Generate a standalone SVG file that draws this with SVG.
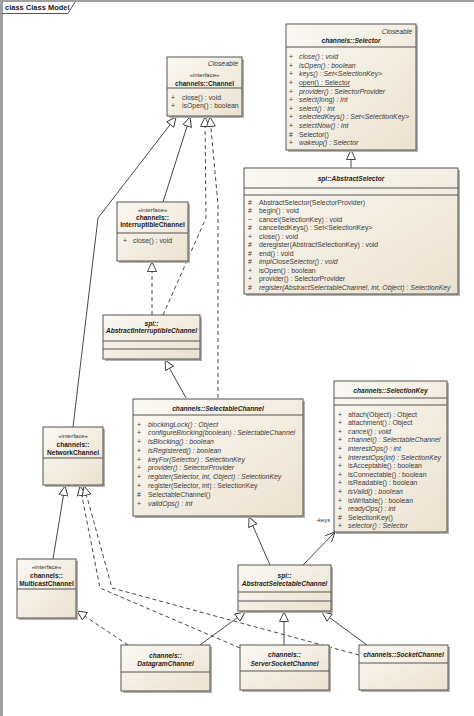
<svg xmlns="http://www.w3.org/2000/svg" width="474" height="716" viewBox="0 0 474 716">
<defs>
<linearGradient id="g" x1="0" y1="0" x2="1" y2="1">
<stop offset="0" stop-color="#fbf9f4"/>
<stop offset="1" stop-color="#ebe1cf"/>
</linearGradient>
<marker id="gen" markerUnits="userSpaceOnUse" markerWidth="11" markerHeight="10" refX="10" refY="5" orient="auto" viewBox="0 0 11 10">
<path d="M0.5,0.5 L10,5 L0.5,9.5 z" fill="#fff" stroke="#333" stroke-width="0.9"/>
</marker>
<marker id="open" markerUnits="userSpaceOnUse" markerWidth="11" markerHeight="10" refX="10" refY="5" orient="auto" viewBox="0 0 11 10">
<path d="M0.5,0.5 L10,5 L0.5,9.5" fill="none" stroke="#333" stroke-width="0.9"/>
</marker>
</defs>
<style>
.sh{fill:#b5b0a8;stroke:none}
.box{fill:url(#g);stroke:#555;stroke-width:1}
.sep{stroke:#555;stroke-width:1}
text{font-family:"Liberation Sans",Arial,sans-serif}
.hd{font-size:6.6px;font-weight:bold;fill:#1c1c1c;text-anchor:middle}
.hi{font-style:italic}
.st{font-size:6px;fill:#333;text-anchor:middle}
.cl{font-size:6.8px;font-style:italic;fill:#333;text-anchor:end}
.m{font-size:6.9px;fill:#3a3a3a}
.i{font-style:italic}
.u{text-decoration:underline}
.v{font-size:6.9px;fill:#3a3a3a}
.c{fill:none;stroke:#333;stroke-width:0.9}
.d{stroke-dasharray:4,3}
.lbl{font-size:6px;fill:#333}
.ft{font-size:7.5px;font-weight:bold;fill:#222}
</style>
<rect x="0" y="0" width="474" height="716" fill="#fff"/>
<g id="frame">
<rect x="0" y="0" width="3" height="716" fill="#a0a0a0"/>
<rect x="0" y="0" width="474" height="2" fill="#a0a0a0"/>
<path d="M2,13.5 L68,13.5 L75,2" fill="none" stroke="#555" stroke-width="1"/>
<text class="ft" x="5" y="10">class Class Model</text>
</g>

<g id="connectors">
<polyline class="c" points="73,427 98,218 176,117" marker-end="url(#gen)"/>
<polyline class="c" points="163,202 190,117" marker-end="url(#gen)"/>
<polyline class="c d" points="163,315 206,218 205,117" marker-end="url(#gen)"/>
<polyline class="c d" points="218,398 218,205 210,117" marker-end="url(#gen)"/>
<polyline class="c d" points="152,315 152,262" marker-end="url(#gen)"/>
<polyline class="c" points="186,398 165,360" marker-end="url(#gen)"/>
<polyline class="c" points="351,168 351,150" marker-end="url(#gen)"/>
<polyline class="c" points="270,565 249,517" marker-end="url(#gen)"/>
<polyline class="c" points="303,565 335,532" marker-end="url(#open)"/>
<text class="lbl" x="316" y="522">-keys</text>
<polyline class="c" points="53,559 65,486" marker-end="url(#gen)"/>
<polyline class="c d" points="240,648 100,588 80,486" marker-end="url(#gen)"/>
<polyline class="c d" points="359,655 112,588 84,486" marker-end="url(#gen)"/>
<polyline class="c d" points="128,645 77,611" marker-end="url(#gen)"/>
<polyline class="c" points="200,645 245,612" marker-end="url(#gen)"/>
<polyline class="c" points="284,645 284,612" marker-end="url(#gen)"/>
<polyline class="c" points="367,645 322,612" marker-end="url(#gen)"/>
</g>

<g id="Channel">
<rect class="sh" x="169" y="59" width="75" height="59"/>
<rect class="box" x="167" y="57" width="75" height="59"/>
<line class="sep" x1="167" y1="88" x2="242" y2="88"/>
<text class="cl" x="238" y="65.5">Closeable</text>
<text class="st" x="204.5" y="77">«interface»</text>
<text class="hd" x="204.5" y="85.5">channels::Channel</text>
<text class="v" x="171" y="99.5">+</text><text class="m" x="182" y="99.5">close() : void</text>
<text class="v" x="171" y="108">+</text><text class="m" x="182" y="108">isOpen() : boolean</text>
</g>

<g id="Selector">
<rect class="sh" x="288" y="26" width="130" height="126"/>
<rect class="box" x="286" y="24" width="130" height="126"/>
<line class="sep" x1="286" y1="47" x2="416" y2="47"/>
<text class="cl" x="412" y="33.5">Closeable</text>
<text class="hd hi" x="351" y="42.5">channels::Selector</text>
<text class="v" x="289" y="59.2">+</text><text class="m i" x="299" y="59.2">close() : void</text>
<text class="v" x="289" y="67.8">+</text><text class="m i" x="299" y="67.8">isOpen() : boolean</text>
<text class="v" x="289" y="76.4">+</text><text class="m i" x="299" y="76.4">keys() : Set&lt;SelectionKey&gt;</text>
<text class="v" x="289" y="85">+</text><text class="m u" x="299" y="85">open() : Selector</text>
<text class="v" x="289" y="93.6">+</text><text class="m i" x="299" y="93.6">provider() : SelectorProvider</text>
<text class="v" x="289" y="102.2">+</text><text class="m i" x="299" y="102.2">select(long) : int</text>
<text class="v" x="289" y="110.8">+</text><text class="m i" x="299" y="110.8">select() : int</text>
<text class="v" x="289" y="119.4">+</text><text class="m i" x="299" y="119.4">selectedKeys() : Set&lt;SelectionKey&gt;</text>
<text class="v" x="289" y="128">+</text><text class="m i" x="299" y="128">selectNow() : int</text>
<text class="v" x="289" y="136.6">#</text><text class="m" x="299" y="136.6">Selector()</text>
<text class="v" x="289" y="145.2">+</text><text class="m i" x="299" y="145.2">wakeup() : Selector</text>
</g>

<g id="AbstractSelector">
<rect class="sh" x="246" y="170" width="214" height="126"/>
<rect class="box" x="244" y="168" width="214" height="126"/>
<line class="sep" x1="244" y1="188" x2="458" y2="188"/>
<line class="sep" x1="244" y1="195" x2="458" y2="195"/>
<text class="hd hi" x="351" y="180.5">spi::AbstractSelector</text>
<text class="v" x="248" y="204.5">#</text><text class="m" x="259" y="204.5">AbstractSelector(SelectorProvider)</text>
<text class="v" x="248" y="213">#</text><text class="m" x="259" y="213">begin() : void</text>
<text class="v" x="248" y="221.5">~</text><text class="m" x="259" y="221.5">cancel(SelectionKey) : void</text>
<text class="v" x="248" y="230">#</text><text class="m" x="259" y="230">cancelledKeys() : Set&lt;SelectionKey&gt;</text>
<text class="v" x="248" y="238.5">+</text><text class="m" x="259" y="238.5">close() : void</text>
<text class="v" x="248" y="247">#</text><text class="m" x="259" y="247">deregister(AbstractSelectionKey) : void</text>
<text class="v" x="248" y="255.5">#</text><text class="m" x="259" y="255.5">end() : void</text>
<text class="v" x="248" y="264">#</text><text class="m i" x="259" y="264">implCloseSelector() : void</text>
<text class="v" x="248" y="272.5">+</text><text class="m" x="259" y="272.5">isOpen() : boolean</text>
<text class="v" x="248" y="281">+</text><text class="m" x="259" y="281">provider() : SelectorProvider</text>
<text class="v" x="248" y="289.5">#</text><text class="m i" x="259" y="289.5">register(AbstractSelectableChannel, int, Object) : SelectionKey</text>
</g>

<g id="InterruptibleChannel">
<rect class="sh" x="119" y="204" width="71" height="59"/>
<rect class="box" x="117" y="202" width="71" height="59"/>
<line class="sep" x1="117" y1="233" x2="188" y2="233"/>
<text class="st" x="152.5" y="212">«interface»</text>
<text class="hd" x="152.5" y="219.5">channels::</text>
<text class="hd" x="152.5" y="227">InterruptibleChannel</text>
<text class="v" x="123" y="242.5">+</text><text class="m" x="133" y="242.5">close() : void</text>
</g>

<g id="AbstractInterruptibleChannel">
<rect class="sh" x="105" y="317" width="97" height="44"/>
<rect class="box" x="103" y="315" width="97" height="44"/>
<line class="sep" x1="103" y1="341" x2="200" y2="341"/>
<line class="sep" x1="103" y1="349" x2="200" y2="349"/>
<text class="hd hi" x="151.5" y="325.5">spi::</text>
<text class="hd hi" x="151.5" y="333">AbstractInterruptibleChannel</text>
</g>

<g id="SelectableChannel">
<rect class="sh" x="135" y="401" width="170" height="117"/>
<rect class="box" x="133" y="399" width="170" height="117"/>
<line class="sep" x1="133" y1="415" x2="303" y2="415"/>
<text class="hd hi" x="218" y="410.5">channels::SelectableChannel</text>
<text class="v" x="137" y="426.5">+</text><text class="m i" x="148" y="426.5">blockingLock() : Object</text>
<text class="v" x="137" y="435.3">+</text><text class="m i" x="148" y="435.3">configureBlocking(boolean) : SelectableChannel</text>
<text class="v" x="137" y="444.1">+</text><text class="m i" x="148" y="444.1">isBlocking() : boolean</text>
<text class="v" x="137" y="452.8">+</text><text class="m i" x="148" y="452.8">isRegistered() : boolean</text>
<text class="v" x="137" y="461.6">+</text><text class="m i" x="148" y="461.6">keyFor(Selector) : SelectionKey</text>
<text class="v" x="137" y="470.4">+</text><text class="m i" x="148" y="470.4">provider() : SelectorProvider</text>
<text class="v" x="137" y="479.2">+</text><text class="m i" x="148" y="479.2">register(Selector, int, Object) : SelectionKey</text>
<text class="v" x="137" y="487.9">+</text><text class="m" x="148" y="487.9">register(Selector, int) : SelectionKey</text>
<text class="v" x="137" y="496.7">#</text><text class="m" x="148" y="496.7">SelectableChannel()</text>
<text class="v" x="137" y="505.5">+</text><text class="m i" x="148" y="505.5">validOps() : int</text>
</g>

<g id="SelectionKey">
<rect class="sh" x="336" y="383" width="113" height="151"/>
<rect class="box" x="334" y="381" width="113" height="151"/>
<line class="sep" x1="334" y1="398" x2="447" y2="398"/>
<line class="sep" x1="334" y1="405" x2="447" y2="405"/>
<text class="hd hi" x="390.5" y="392.5">channels::SelectionKey</text>
<text class="v" x="338" y="416.5">+</text><text class="m" x="348" y="416.5">attach(Object) : Object</text>
<text class="v" x="338" y="425.1">+</text><text class="m" x="348" y="425.1">attachment() : Object</text>
<text class="v" x="338" y="433.7">+</text><text class="m i" x="348" y="433.7">cancel() : void</text>
<text class="v" x="338" y="442.3">+</text><text class="m i" x="348" y="442.3">channel() : SelectableChannel</text>
<text class="v" x="338" y="450.9">+</text><text class="m i" x="348" y="450.9">interestOps() : int</text>
<text class="v" x="338" y="459.5">+</text><text class="m i" x="348" y="459.5">interestOps(int) : SelectionKey</text>
<text class="v" x="338" y="468.1">+</text><text class="m" x="348" y="468.1">isAcceptable() : boolean</text>
<text class="v" x="338" y="476.7">+</text><text class="m" x="348" y="476.7">isConnectable() : boolean</text>
<text class="v" x="338" y="485.3">+</text><text class="m" x="348" y="485.3">isReadable() : boolean</text>
<text class="v" x="338" y="493.9">+</text><text class="m i" x="348" y="493.9">isValid() : boolean</text>
<text class="v" x="338" y="502.5">+</text><text class="m" x="348" y="502.5">isWritable() : boolean</text>
<text class="v" x="338" y="511.1">+</text><text class="m i" x="348" y="511.1">readyOps() : int</text>
<text class="v" x="338" y="519.7">#</text><text class="m" x="348" y="519.7">SelectionKey()</text>
<text class="v" x="338" y="528.3">+</text><text class="m i" x="348" y="528.3">selector() : Selector</text>
</g>

<g id="NetworkChannel">
<rect class="sh" x="45" y="429" width="60" height="58"/>
<rect class="box" x="43" y="427" width="60" height="58"/>
<line class="sep" x1="43" y1="458" x2="103" y2="458"/>
<text class="st" x="73" y="438">«interface»</text>
<text class="hd" x="73" y="446.5">channels::</text>
<text class="hd" x="73" y="455">NetworkChannel</text>
</g>

<g id="MulticastChannel">
<rect class="sh" x="19" y="561" width="59" height="59"/>
<rect class="box" x="17" y="559" width="59" height="59"/>
<line class="sep" x1="17" y1="589" x2="76" y2="589"/>
<text class="st" x="46.5" y="569">«interface»</text>
<text class="hd" x="46.5" y="577.5">channels::</text>
<text class="hd" x="46.5" y="586">MulticastChannel</text>
</g>

<g id="DatagramChannel">
<rect class="sh" x="123" y="647" width="89" height="46"/>
<rect class="box" x="121" y="645" width="89" height="46"/>
<line class="sep" x1="121" y1="672" x2="210" y2="672"/>
<text class="hd hi" x="165.5" y="657.5">channels::</text>
<text class="hd hi" x="165.5" y="666">DatagramChannel</text>
</g>

<g id="AbstractSelectableChannel">
<rect class="sh" x="240" y="567" width="93" height="46"/>
<rect class="box" x="238" y="565" width="93" height="46"/>
<line class="sep" x1="238" y1="592" x2="331" y2="592"/>
<line class="sep" x1="238" y1="601" x2="331" y2="601"/>
<text class="hd hi" x="284.5" y="577.5">spi::</text>
<text class="hd hi" x="284.5" y="586">AbstractSelectableChannel</text>
</g>

<g id="ServerSocketChannel">
<rect class="sh" x="242" y="647" width="89" height="45"/>
<rect class="box" x="240" y="645" width="89" height="45"/>
<line class="sep" x1="240" y1="671" x2="329" y2="671"/>
<text class="hd hi" x="284.5" y="656.5">channels::</text>
<text class="hd hi" x="284.5" y="665.5">ServerSocketChannel</text>
</g>

<g id="SocketChannel">
<rect class="sh" x="361" y="647" width="89" height="45"/>
<rect class="box" x="359" y="645" width="89" height="45"/>
<line class="sep" x1="359" y1="663" x2="448" y2="663"/>
<text class="hd hi" x="403.5" y="656.5">channels::SocketChannel</text>
</g>
</svg>
